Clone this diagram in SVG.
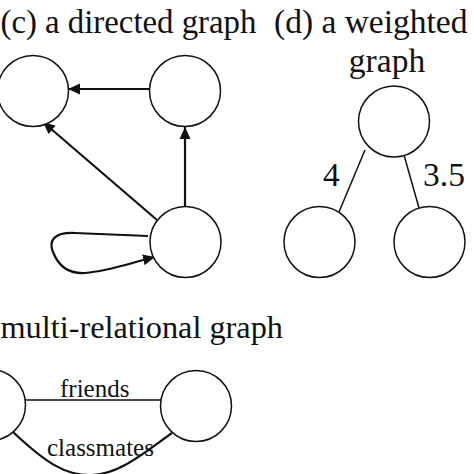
<svg xmlns="http://www.w3.org/2000/svg" width="474" height="474" viewBox="0 0 474 474">
<style>
.t{font-family:"Liberation Serif","Times New Roman",serif;font-size:33.5px;fill:#111}
.s{font-family:"Liberation Serif","Times New Roman",serif;font-size:25px;fill:#111}
.n{fill:#fff;stroke:#111;stroke-width:1.5}
.e{fill:none;stroke:#111;stroke-width:2.2}
.w{fill:none;stroke:#111;stroke-width:1.5}
</style>
<defs>
<marker id="ah" markerUnits="userSpaceOnUse" markerWidth="12" markerHeight="12" viewBox="0 0 12 12" refX="12" refY="6" orient="auto">
<path d="M0,0.5 L12,6 L0,11.5 Z" fill="#111"/>
</marker>
</defs>
<rect width="474" height="474" fill="#fff"/>
<text class="t" x="0.5" y="33" style="font-size:32.8px">(c) a directed graph</text>
<text class="t" x="274" y="33">(d) a weighted</text>
<text class="t" x="387" y="72" text-anchor="middle">graph</text>
<text class="t" x="0.5" y="338" style="font-size:32.3px">multi-relational graph</text>
<g id="connectors">
<path class="e" d="M149,89 L68,89" marker-end="url(#ah)"/>
<path class="e" d="M157,220 L43,122" marker-end="url(#ah)"/>
<path class="e" d="M185,207 L185,127" marker-end="url(#ah)"/>
<path class="e" stroke-width="2.6" d="M148,236 L75,233 C55,232 48,240 53,252 C58,265 68,274 85,273 C110,271 130,263 155,257" marker-end="url(#ah)"/>
<path class="w" d="M365,150 L339,212"/>
<path class="w" d="M404,155 L419,208"/>
<path class="w" d="M25,400 L161,400"/>
<path class="e" stroke-width="2.6" d="M13,432 C45,462 65,476 92,475 C120,474 145,452 172,433"/>
</g>
<g id="c1"><circle class="n" cx="33" cy="91" r="35.5"/></g>
<g id="c2"><circle class="n" cx="185" cy="91" r="35.5"/></g>
<g id="c3"><circle class="n" cx="185.5" cy="242" r="35.5"/></g>
<g id="d1"><circle class="n" cx="394" cy="121.5" r="35.5"/></g>
<g id="d2"><circle class="n" cx="319.5" cy="242" r="35.5"/></g>
<g id="d3"><circle class="n" cx="429.5" cy="242" r="35.5"/></g>
<g id="e1"><circle class="n" cx="-10" cy="405" r="35.5"/></g>
<g id="e2"><circle class="n" cx="196" cy="406" r="35.5"/></g>
<g id="labels">
<text class="t" x="323" y="186">4</text>
<text class="t" x="423" y="186">3.5</text>
<text class="s" x="60" y="397">friends</text>
<text class="s" x="47" y="456">classmates</text>
</g>
</svg>
